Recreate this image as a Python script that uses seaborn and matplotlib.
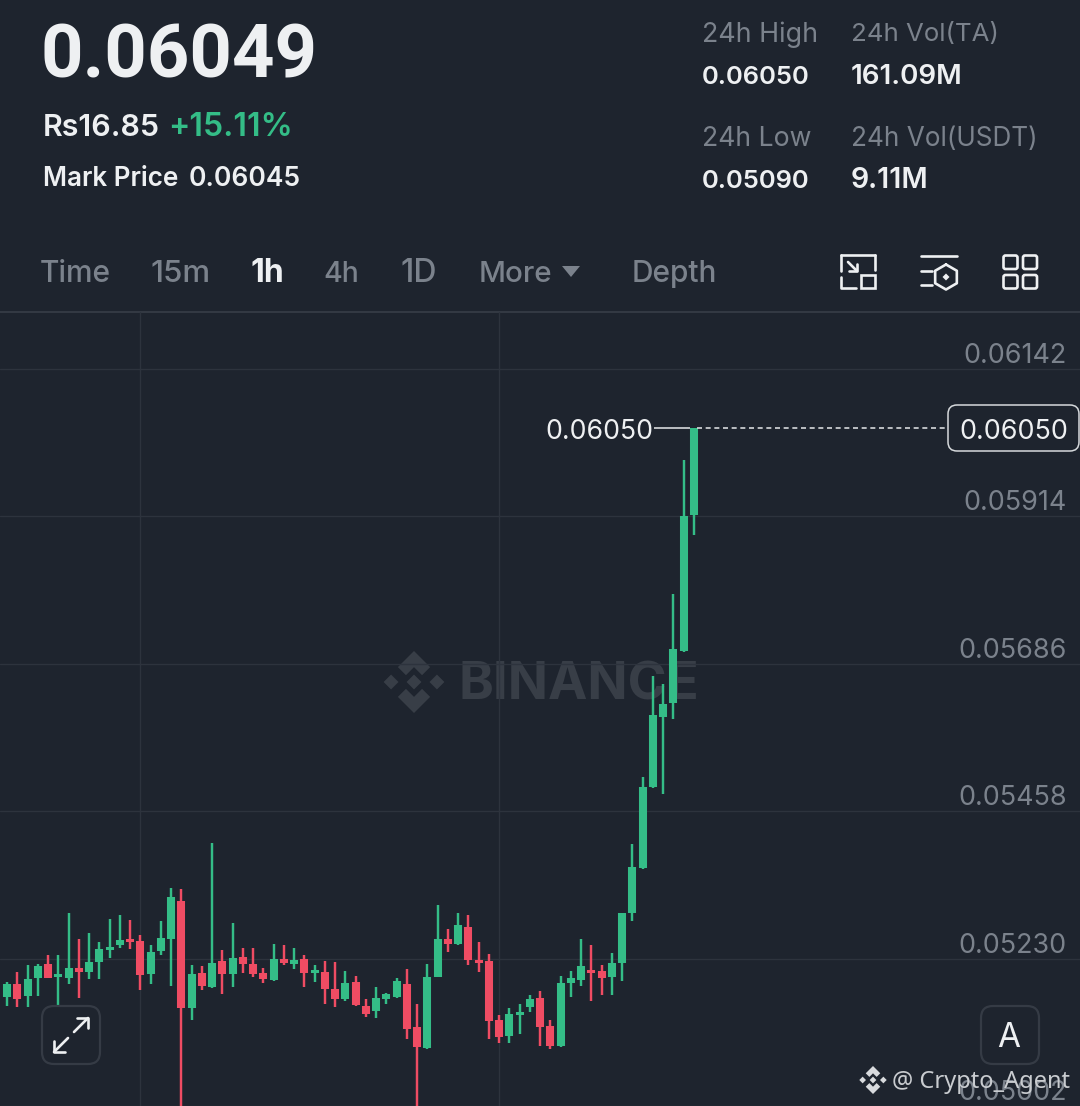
import numpy as np
import pandas as pd
import seaborn as sns
import matplotlib
matplotlib.use("Agg")
import matplotlib.pyplot as plt
from matplotlib.patches import FancyBboxPatch, Polygon, Rectangle
from matplotlib.transforms import ScaledTranslation

# ---------------- data ----------------
open_ = [0.051700,0.051906,0.051725,0.051994,0.052210,0.052014,0.052003,0.052149,0.052096,0.052251,
         0.052427,0.052509,0.052606,0.052575,0.052056,0.052421,0.052606,0.053189,0.051539,0.052071,
         0.051864,0.052261,0.052056,0.052323,0.052220,0.052071,0.051963,0.052297,0.052210,0.052292,
         0.052080,0.052087,0.051833,0.051669,0.051937,0.051566,0.051493,0.051669,0.051710,0.051906,
         0.051236,0.050921,0.052014,0.052606,0.052524,0.052792,0.052281,0.052261,0.051354,0.051102,
         0.051422,0.051555,0.051694,0.051257,0.050947,0.051926,0.051963,0.052122,0.052102,0.052014,
         0.052235,0.053008,0.053704,0.054946,0.056033,0.056245,0.057058,0.059151]
close = [0.051901,0.051669,0.051983,0.052189,0.052003,0.052060,0.052153,0.052087,0.052241,0.052447,
         0.052478,0.052586,0.052555,0.052040,0.052405,0.052612,0.053246,0.051530,0.052065,0.051880,
         0.052235,0.052056,0.052303,0.052215,0.052060,0.051983,0.052288,0.052230,0.052277,0.052080,
         0.052122,0.051829,0.051669,0.051917,0.051581,0.051442,0.051694,0.051751,0.051952,0.051210,
         0.050927,0.052009,0.052601,0.052520,0.052813,0.052277,0.052235,0.051339,0.051091,0.051442,
         0.051478,0.051679,0.051246,0.050947,0.051926,0.051999,0.052179,0.052071,0.051994,0.052235,
         0.052999,0.053714,0.054956,0.056059,0.056234,0.057089,0.059140,0.060500]
high = [0.051941,0.052096,0.052200,0.052210,0.052354,0.052354,0.052999,0.052601,0.052699,0.052560,
        0.052911,0.052972,0.052895,0.052663,0.052509,0.052880,0.053394,0.053370,0.052200,0.052184,
        0.054081,0.052431,0.052853,0.052458,0.052467,0.052153,0.052524,0.052513,0.052467,0.052349,
        0.052200,0.052257,0.052251,0.052111,0.052029,0.051674,0.051855,0.051762,0.051999,0.052138,
        0.051597,0.052215,0.053127,0.052761,0.052999,0.052977,0.052550,0.052370,0.051427,0.051530,
        0.051597,0.051740,0.051802,0.051349,0.052034,0.052102,0.052601,0.052509,0.052200,0.052385,
        0.052999,0.054070,0.055110,0.056667,0.056543,0.057934,0.060006,0.060500]
low = [0.051566,0.051546,0.051546,0.051720,0.051999,0.051530,0.051901,0.051694,0.051983,0.051978,
       0.052308,0.052467,0.052442,0.051813,0.051901,0.052349,0.051875,0.049900,0.051349,0.051813,
       0.051849,0.051751,0.051855,0.052080,0.052009,0.051917,0.051957,0.052200,0.052142,0.051855,
       0.051941,0.051597,0.051546,0.051648,0.051566,0.051400,0.051376,0.051597,0.051685,0.051056,
       0.049900,0.050901,0.052009,0.052405,0.052509,0.052200,0.052091,0.051051,0.050998,0.050989,
       0.051133,0.051468,0.050947,0.050896,0.050937,0.051710,0.051880,0.051643,0.051736,0.051736,
       0.051957,0.052884,0.053683,0.054931,0.054838,0.055998,0.057038,0.058842]
price_ticks = [0.06142, 0.05914, 0.05686, 0.05458, 0.05230, 0.05002]
tick_labels = ["0.06142", "0.05914", "0.05686", "0.05458", "0.05230", "0.05002"]
session_marks = [13, 48]
last_price = 0.06050

BG = "#1e242e"
GREEN = "#34bd87"
RED = "#ef4c63"
GRID = "#2d333d"
GRAY = "#7b828c"
WHITE = "#eef0f2"

sns.set_theme(style="darkgrid", rc={
    "figure.facecolor": BG, "axes.facecolor": BG, "axes.edgecolor": BG,
    "grid.color": GRID, "grid.linewidth": 1.0,
})
plt.rcParams["font.family"] = ["Inter", "Noto Sans", "DejaVu Sans"]

W, H = 1080, 1106
fig = plt.figure(figsize=(W / 100, H / 100), dpi=100, facecolor=BG)

# ---------------- candlestick axes ----------------
top_px = 312
ax = fig.add_axes([0, 0, 1, (H - top_px) / H])
idx = np.arange(len(open_))
o, c, hi, lo = map(np.array, (open_, close, high, low))
direction = np.where(c >= o, "up", "down")
pal = {"up": GREEN, "down": RED}

wicks = pd.DataFrame({"i": np.r_[idx, idx], "price": np.r_[hi, lo], "dir": np.r_[direction, direction]})
bodies = pd.DataFrame({"i": np.r_[idx, idx], "price": np.r_[o, c], "dir": np.r_[direction, direction]})
sns.lineplot(data=wicks, x="i", y="price", hue="dir", units="i", estimator=None, sort=False,
             palette=pal, linewidth=1.75, legend=False, ax=ax, solid_capstyle="butt", zorder=3)
sns.lineplot(data=bodies, x="i", y="price", hue="dir", units="i", estimator=None, sort=False,
             palette=pal, linewidth=5.8, legend=False, ax=ax, solid_capstyle="butt", zorder=4)

x0, dx = 7.0, 10.25
ax.set_xlim((0 - x0) / dx, (W - x0) / dx)
ax.set_ylim(0.05002, 0.062294)
ax.set_xlabel(""); ax.set_ylabel("")
ax.set_xticks(session_marks); ax.set_xticklabels([])
ax.set_yticks(price_ticks); ax.set_yticklabels(tick_labels)
ax.yaxis.tick_right()
ax.tick_params(axis="y", length=0, pad=-9.4, labelsize=19.4, labelcolor=GRAY)
ax.tick_params(axis="x", length=0)
off = ScaledTranslation(0, -0.3 / 72, fig.dpi_scale_trans)
for lab in ax.get_yticklabels():
    lab.set_ha("right"); lab.set_va("bottom")
    lab.set_transform(lab.get_transform() + off)
ax.set_axisbelow(True)
for s in ax.spines.values():
    s.set_visible(False)

# ---------------- pixel overlay ----------------
ov = fig.add_axes([0, 0, 1, 1], facecolor="none", zorder=10)
ov.set_xlim(0, W); ov.set_ylim(H, 0); ov.axis("off")
under = fig.add_axes([0, 0, 1, 1], facecolor="none", zorder=1)
under.set_xlim(0, W); under.set_ylim(H, 0); under.axis("off")
ax.set_zorder(2); ax.patch.set_alpha(0)
ax.set_facecolor("none")


def T(x, y, s, size, color=WHITE, weight="normal", ha="left", a=ov, **kw):
    return a.text(x, y + 2, s, fontsize=size, color=color, fontweight=weight, ha=ha, va="center", **kw)


def L(xs, ys, color=WHITE, lw=1.9, a=ov, **kw):
    a.plot(xs, ys, color=color, lw=lw, solid_capstyle=kw.pop("cap", "round"),
           solid_joinstyle="round", **kw)


def logo(cx, cy, r, color, a):
    dia = lambda x, y, q: [(x, y - q), (x + q, y), (x, y + q), (x - q, y)]
    for shape in (dia(0, 0, .24), dia(-.74, 0, .24), dia(.74, 0, .24)):
        a.add_patch(Polygon([(cx + r * p, cy + r * q) for p, q in shape], fc=color, ec="none"))
    top = [(0, -1), (.52, -.48), (.26, -.22), (0, -.48), (-.26, -.22), (-.52, -.48)]
    for sgn in (1, -1):
        a.add_patch(Polygon([(cx + r * p, cy + sgn * r * q) for p, q in top], fc=color, ec="none"))


# top separator
L([0, W], [top_px, top_px], color="#343a44", lw=1.4, a=under, cap="butt")

# watermark
logo(414, 682, 31, "#383e47", under)
T(458, 684, "BINANCE", 38, color="#383e47", weight="bold", a=under)

# header
T(41, 56, "0.06049", 53.5, weight="bold", family=["Roboto", "DejaVu Sans"])
T(43, 126, "Rs16.85", 21.9, weight="semibold")
T(168, 126, "+15.11%", 23, color=GREEN, weight="semibold")
T(43, 177, "Mark Price", 18.8, weight="semibold")
T(189, 177, "0.06045", 19, weight="semibold")
T(702, 33, "24h High", 19.3, color=GRAY)
T(851, 33, "24h Vol(TA)", 18.6, color=GRAY)
T(702, 75, "0.06050", 18.4, weight="semibold")
T(851, 75, "161.09M", 20, weight="semibold")
T(702, 137, "24h Low", 19.2, color=GRAY)
T(851, 137, "24h Vol(USDT)", 18.8, color=GRAY)
T(702, 179, "0.05090", 18.4, weight="semibold")
T(851, 179, "9.11M", 20.5, weight="semibold")

# tabs
for x, s, fs in [(40, "Time", 21.5), (150, "15m", 22.5), (323, "4h", 20.5), (400, "1D", 23),
                 (479, "More", 21.3), (632, "Depth", 21.5)]:
    T(x, 272, s, fs, color=GRAY, weight="medium")
T(251, 272, "1h", 23, weight="bold")
ov.add_patch(Polygon([(562, 266), (580, 266), (571, 277)], fc=GRAY, ec="none"))

# toolbar icons
L([841, 841], [271, 255]); L([841, 875], [255, 255]); L([875, 875], [255, 270])
L([841, 841, 856], [277, 288, 288])
ov.add_patch(Rectangle((861, 275), 14, 13, fc="none", ec=WHITE, lw=1.9))
L([848, 857], [262, 271]); L([857, 857, 849], [264, 271, 271])
L([921, 957], [256, 256]); L([921, 932], [271, 271]); L([921, 932], [285, 285])
ang = np.deg2rad(np.arange(-90, 271, 60))
L(946 + 12.5 * np.cos(ang), 277 + 12.5 * np.sin(ang))
ov.add_patch(Polygon([(946, 273.5), (949.5, 277), (946, 280.5), (942.5, 277)], fc=WHITE, ec="none"))
for x in (1003.5, 1023):
    for y in (255.5, 275):
        ov.add_patch(FancyBboxPatch((x, y), 14, 13.5, boxstyle="round,pad=0,rounding_size=2",
                                    fc="none", ec=WHITE, lw=1.9))

# last price marker
yfrac = (last_price - ax.get_ylim()[0]) / (ax.get_ylim()[1] - ax.get_ylim()[0])
last_y = H - yfrac * (H - top_px)
T(653, last_y + 2, "0.06050", 19.2, ha="right")
L([654, 690], [last_y, last_y], color="#d6d9dc", lw=1.2, cap="butt")
ov.plot([697, 945], [last_y, last_y], color="#d6d9dc", lw=1.2, dashes=(3, 2.2))
ov.add_patch(FancyBboxPatch((948, 405), 131, 46, boxstyle="round,pad=0,rounding_size=9",
                            fc=BG, ec="#d6d9dc", lw=1.1))
T(1013.5, last_y + 2, "0.06050", 19.4, ha="center")

# bottom buttons
ov.add_patch(FancyBboxPatch((42, 1006), 58, 58, boxstyle="round,pad=0,rounding_size=12",
                            fc=BG, ec="#353b45", lw=1.6))
L([74, 88], [1032, 1018]); L([77, 88, 88], [1018, 1018, 1028])
L([68, 54], [1038, 1052]); L([54, 54, 65], [1041, 1052, 1052])
ov.add_patch(FancyBboxPatch((981, 1006), 58, 58, boxstyle="round,pad=0,rounding_size=12",
                            fc=BG, ec="#353b45", lw=1.6))
T(1009, 1036, "A", 24, ha="center")

# credit
logo(873, 1080, 14, "#d8dadd", ov)
T(892, 1080, "@ Crypto_Agent", 17, color="#c9ccd0", family=["Noto Sans", "DejaVu Sans"])

fig.savefig("out.png", dpi=100, facecolor=BG)
